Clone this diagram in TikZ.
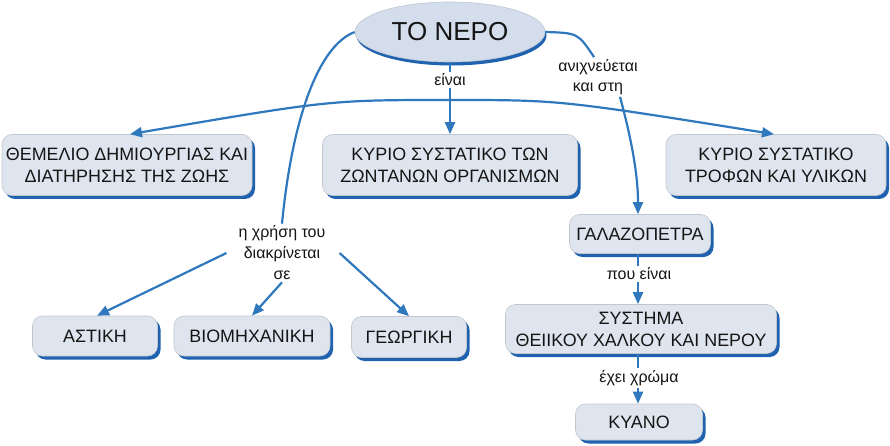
\documentclass[tikz,border=0pt]{standalone}
\usepackage{fontspec}
\setmainfont{Liberation Sans}
\usetikzlibrary{shapes.geometric,arrows.meta,shadows}
\definecolor{lineblue}{HTML}{2F78BD}
\definecolor{shadowblue}{HTML}{1E62B0}
\definecolor{boxfill}{HTML}{DFE5EE}
\definecolor{ellfill}{HTML}{D3DDEC}
\definecolor{txt}{HTML}{151515}
\begin{document}
\begin{tikzpicture}[x=1pt,y=-1pt,
  concept/.style={rounded corners=10pt, fill=boxfill, draw=boxfill!70!gray, line width=0.6pt,
    drop shadow={shadow xshift=3pt, shadow yshift=-3.5pt, fill=shadowblue, opacity=1},
    align=center, text=txt, font=\fontsize{17.9}{22}\selectfont, inner sep=0pt},
  lbl/.style={font=\fontsize{16}{20}\selectfont, align=center, inner sep=2pt, text=txt},
  link/.style={draw=lineblue, line width=2.2pt},
  arr/.style={link, -{Triangle[length=12pt,width=10pt]}}
]
\useasboundingbox[fill=white] (0,0) rectangle (890,446);

% nodes
\node[ellipse, fill=ellfill, draw=ellfill!75!gray, line width=0.6pt, minimum width=190pt, minimum height=60pt,
  drop shadow={shadow xshift=1.5pt, shadow yshift=-3.5pt, fill=shadowblue, opacity=1},
  text=txt, font=\fontsize{26}{30}\selectfont, inner sep=0pt] (nero) at (450,32) {ΤΟ ΝΕΡΟ};

\node[concept, minimum width=250pt, minimum height=61pt] (themelio) at (127,165) {ΘΕΜΕΛΙΟ ΔΗΜΙΟΥΡΓΙΑΣ ΚΑΙ\\ΔΙΑΤΗΡΗΣΗΣ ΤΗΣ ΖΩΗΣ};
\node[concept, minimum width=255pt, minimum height=61pt] (zontanon) at (450,165) {ΚΥΡΙΟ ΣΥΣΤΑΤΙΚΟ ΤΩΝ\\ΖΩΝΤΑΝΩΝ ΟΡΓΑΝΙΣΜΩΝ};
\node[concept, minimum width=220pt, minimum height=61pt] (trofon) at (776,165) {ΚΥΡΙΟ ΣΥΣΤΑΤΙΚΟ\\ΤΡΟΦΩΝ ΚΑΙ ΥΛΙΚΩΝ};
\node[concept, minimum width=141pt, minimum height=39pt] (galazo) at (640,234) {ΓΑΛΑΖΟΠΕΤΡΑ};
\node[concept, minimum width=271pt, minimum height=49pt] (systima) at (641,329) {ΣΥΣΤΗΜΑ\\ΘΕΙΙΚΟΥ ΧΑΛΚΟΥ ΚΑΙ ΝΕΡΟΥ};
\node[concept, minimum width=127pt, minimum height=36pt] (kyano) at (639,422) {ΚΥΑΝΟ};
\node[concept, minimum width=125pt, minimum height=40pt] (astiki) at (95,336) {ΑΣΤΙΚΗ};
\node[concept, minimum width=156pt, minimum height=40pt] (viom) at (252,336) {ΒΙΟΜΗΧΑΝΙΚΗ};
\node[concept, minimum width=115pt, minimum height=41pt] (georg) at (409,337) {ΓΕΩΡΓΙΚΗ};

% labels
\node[lbl] (einai) at (450,80) {είναι};
\node[lbl] (anix) at (598,77) {ανιχνεύεται\\και στη};
\node[lbl, font=\fontsize{16}{21}\selectfont] (xrisi) at (282,253) {η χρήση του\\διακρίνεται\\σε};
\node[lbl] (pou) at (639,274) {που είναι};
\node[lbl] (exei) at (639,378) {έχει χρώμα};

% connectors
\coordinate (split) at (450,100);
\draw[link] (nero.south) -- (einai.north);
\draw[arr] (einai.south) -- (zontanon.north);
\draw[arr] (split) .. controls (330,100) .. ([xshift=3pt]themelio.north);
\draw[arr] (split) .. controls (560,100) .. ([xshift=-2pt]trofon.north);

\draw[link] (nero.west) .. controls (318,46) and (292,120) .. (xrisi.north);
\draw[arr] ([xshift=-10pt]xrisi.west) -- ([xshift=2pt]astiki.north);
\draw[arr] (xrisi.south) -- (viom.north);
\draw[arr] ([xshift=12pt]xrisi.east) -- (georg.north);

\draw[link] (nero.east) .. controls (578,33) .. ([xshift=-4pt]anix.north);
\draw[arr] ([xshift=22pt]anix.south) .. controls (629,130) and (638,170) .. ([xshift=-2pt]galazo.north);

\draw[link] ([xshift=-2pt]galazo.south) -- ([xshift=-1pt]pou.north);
\draw[arr] ([xshift=-1pt]pou.south) -- ([xshift=-3pt]systima.north);
\draw[link] ([xshift=-3pt]systima.south) -- ([xshift=-1pt]exei.north);
\draw[arr] ([xshift=-1pt]exei.south) -- ([xshift=-1pt]kyano.north);
\end{tikzpicture}
\end{document}
